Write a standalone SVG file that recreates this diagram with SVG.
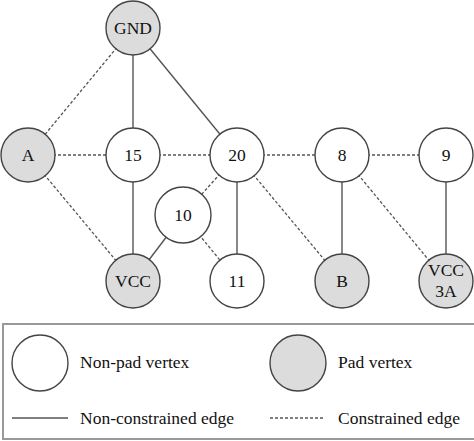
<svg xmlns="http://www.w3.org/2000/svg" width="474" height="441" viewBox="0 0 474 441">
<style>
.e{stroke:#555;stroke-width:1.4;fill:none}
.d{stroke:#555;stroke-width:1.3;fill:none;stroke-dasharray:3 2}
.np{fill:#fff;stroke:#444;stroke-width:1.4}
.p{fill:#dcdcdc;stroke:#444;stroke-width:1.4}
text{font-family:"Liberation Serif","Times New Roman",serif;font-size:17.5px;fill:#111}
.c{text-anchor:middle}
</style>
<rect width="474" height="441" fill="#fff"/>
<g id="connectors">
<line class="d" x1="133" y1="28" x2="28" y2="155"/>
<line class="e" x1="133" y1="28" x2="133" y2="155"/>
<line class="e" x1="133" y1="28" x2="237" y2="155"/>
<line class="d" x1="28" y1="155" x2="133" y2="155"/>
<line class="d" x1="28" y1="155" x2="133" y2="281"/>
<line class="d" x1="133" y1="155" x2="237" y2="155"/>
<line class="e" x1="133" y1="155" x2="133" y2="281"/>
<line class="d" x1="237" y1="155" x2="183" y2="215"/>
<line class="e" x1="237" y1="155" x2="237" y2="281"/>
<line class="d" x1="237" y1="155" x2="342" y2="281"/>
<line class="d" x1="237" y1="155" x2="342" y2="155"/>
<line class="d" x1="342" y1="155" x2="446" y2="155"/>
<line class="e" x1="342" y1="155" x2="342" y2="281"/>
<line class="d" x1="342" y1="155" x2="446" y2="281"/>
<line class="e" x1="446" y1="155" x2="446" y2="281"/>
<line class="e" x1="183" y1="215" x2="133" y2="281"/>
<line class="d" x1="183" y1="215" x2="237" y2="281"/>
</g>
<g id="GND"><circle class="p" cx="133" cy="28" r="27"/><text class="c" x="133" y="34">GND</text></g>
<g id="A"><circle class="p" cx="28" cy="155" r="27"/><text class="c" x="28" y="161">A</text></g>
<g id="n15"><circle class="np" cx="133" cy="155" r="27"/><text class="c" x="133" y="161">15</text></g>
<g id="n20"><circle class="np" cx="237" cy="155" r="27"/><text class="c" x="237" y="161">20</text></g>
<g id="n8"><circle class="np" cx="342" cy="155" r="27"/><text class="c" x="342" y="161">8</text></g>
<g id="n9"><circle class="np" cx="446" cy="155" r="27"/><text class="c" x="446" y="161">9</text></g>
<g id="n10"><circle class="np" cx="183" cy="215" r="28"/><text class="c" x="183" y="221">10</text></g>
<g id="VCC"><circle class="p" cx="133" cy="281" r="27"/><text class="c" x="133" y="287">VCC</text></g>
<g id="n11"><circle class="np" cx="237" cy="281" r="27"/><text class="c" x="237" y="287">11</text></g>
<g id="B"><circle class="p" cx="342" cy="281" r="27"/><text class="c" x="342" y="287">B</text></g>
<g id="VCC3A"><circle class="p" cx="446" cy="281" r="27"/><text class="c" x="446" y="276">VCC</text><text class="c" x="446" y="297">3A</text></g>
<g id="legend">
<rect x="3" y="324" width="480" height="115" fill="none" stroke="#999" stroke-width="2"/>
<circle class="np" cx="40" cy="363" r="28"/>
<text x="80" y="368">Non-pad vertex</text>
<circle class="p" cx="298" cy="363" r="28"/>
<text x="338" y="368">Pad vertex</text>
<line class="e" x1="12" y1="418" x2="68" y2="418"/>
<text x="80" y="424">Non-constrained edge</text>
<line class="d" x1="270" y1="418" x2="324" y2="418" stroke-dasharray="2 1.5"/>
<text x="338" y="424">Constrained edge</text>
</g>
</svg>
